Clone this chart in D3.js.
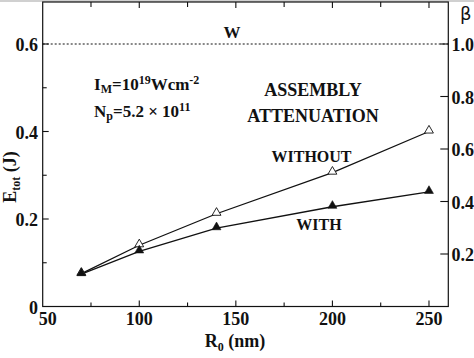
<!DOCTYPE html>
<html><head><meta charset="utf-8">
<script src="https://cdn.jsdelivr.net/npm/d3@7"></script>
<style>
html,body{margin:0;padding:0;background:#fff;overflow:hidden}
svg{display:block}
text{font-family:"Liberation Serif","Times New Roman",serif;font-weight:bold;fill:#111}
</style></head>
<body>
<svg id="c" width="474" height="358"></svg>
<script>
// ---- data ----
const radii = [70, 100, 140, 200, 250];            // R0 (nm)
const withoutAtt = [0.075, 0.140, 0.212, 0.306, 0.400]; // E_tot (J), open triangles
const withAtt = [0.074, 0.126, 0.179, 0.228, 0.262];    // E_tot (J), filled triangles
const xTicks = [50, 100, 150, 200, 250];
const xMinor = [75, 125, 175, 225];
const yTicks = [0, 0.2, 0.4, 0.6];
const yMinor = [0.1, 0.3, 0.5];
const betaTicks = [0.2, 0.4, 0.6, 0.8, 1.0];
const wLevel = 0.6;

const svg = d3.select("#c");
const L = 42.7, R = 448.3, T = 2, B = 306.5;
const x = d3.scaleLinear().domain([50, 260]).range([L, R]);
const y = d3.scaleLinear().domain([0, 0.6]).range([B, 44]);
const yb = d3.scaleLinear().domain([0, 1.0]).range([B, 44]);

svg.append("rect").attr("x", 0).attr("y", 0).attr("width", 474).attr("height", T).attr("fill", "#d0d0d0");

svg.append("rect").attr("x", L).attr("y", T).attr("width", R - L).attr("height", B - T)
  .attr("fill", "none").attr("stroke", "#111").attr("stroke-width", 1.2);

const tk = svg.append("g").attr("stroke", "#111").attr("stroke-width", 1.1);
xTicks.concat(xMinor).forEach(v => {
  const major = xTicks.includes(v);
  if (x(v) <= L + 0.5) return;
  tk.append("line").attr("x1", x(v)).attr("x2", x(v)).attr("y1", B).attr("y2", B - (major ? 6 : 4));
  tk.append("line").attr("x1", x(v)).attr("x2", x(v)).attr("y1", T).attr("y2", T + (major ? 6 : 5));
});
yTicks.concat(yMinor).forEach(v => {
  const major = yTicks.includes(v);
  if (v === 0) return;
  tk.append("line").attr("x1", L).attr("x2", L + (major ? 6 : 4)).attr("y1", y(v)).attr("y2", y(v));
});
betaTicks.forEach(v => {
  tk.append("line").attr("x1", R).attr("x2", R - 8).attr("y1", yb(v)).attr("y2", yb(v));
});

const fs = 18;
xTicks.forEach(v => {
  svg.append("text").attr("x", x(v) + (v === 50 ? 5 : 0)).attr("y", B + 18)
    .attr("text-anchor", "middle").attr("font-size", fs).text(v);
});
yTicks.forEach(v => {
  svg.append("text").attr("x", 38).attr("y", y(v) + 7)
    .attr("text-anchor", "end").attr("font-size", fs).text(v === 0 ? "0" : v.toFixed(1));
});
betaTicks.forEach(v => {
  svg.append("text").attr("x", 451.5).attr("y", yb(v) + 7)
    .attr("text-anchor", "start").attr("font-size", fs).text(v.toFixed(2));
});
svg.append("text").attr("x", 460).attr("y", 20).attr("font-size", 18)
  .style("font-family", "'DejaVu Sans',sans-serif").style("font-weight", "normal").text("β");

svg.append("line").attr("x1", L).attr("x2", R).attr("y1", y(wLevel)).attr("y2", y(wLevel))
  .attr("stroke", "#111").attr("stroke-width", 1).attr("stroke-dasharray", "2,2");
svg.append("text").attr("x", 232).attr("y", 38).attr("text-anchor", "middle").attr("font-size", 17).text("W");

const line = d3.line().x(d => x(d[0])).y(d => y(d[1]));
const sW = radii.map((r, i) => [r, withoutAtt[i]]);
const sA = radii.map((r, i) => [r, withAtt[i]]);
[sW, sA].forEach(s => svg.append("path").attr("d", line(s)).attr("fill", "none")
  .attr("stroke", "#111").attr("stroke-width", 1.3));
const tri = d3.symbol().type(d3.symbolTriangle).size(34);
sW.forEach(d => svg.append("path").attr("d", tri()).attr("transform", `translate(${x(d[0])},${y(d[1]) - 1})`)
  .attr("fill", "#fff").attr("stroke", "#111").attr("stroke-width", 0.9));
sA.forEach(d => svg.append("path").attr("d", tri()).attr("transform", `translate(${x(d[0])},${y(d[1]) - 1})`)
  .attr("fill", "#111").attr("stroke", "#111").attr("stroke-width", 0.6));

const t1 = svg.append("text").attr("x", 94).attr("y", 90).attr("font-size", 17);
t1.append("tspan").text("I");
t1.append("tspan").attr("font-size", 12).attr("dy", 3).text("M");
t1.append("tspan").attr("dy", -3).text("=10");
t1.append("tspan").attr("font-size", 12).attr("dy", -6).text("19");
t1.append("tspan").attr("dy", 6).text("Wcm");
t1.append("tspan").attr("font-size", 12).attr("dy", -6).text("-2");

const t2 = svg.append("text").attr("x", 94).attr("y", 117).attr("font-size", 17);
t2.append("tspan").text("N");
t2.append("tspan").attr("font-size", 12).attr("dy", 3).text("p");
t2.append("tspan").attr("dy", -3).text("=5.2 × 10");
t2.append("tspan").attr("font-size", 12).attr("dy", -6).text("11");

svg.append("text").attr("x", 313).attr("y", 96).attr("text-anchor", "middle").attr("font-size", 18).text("ASSEMBLY");
svg.append("text").attr("x", 313).attr("y", 122).attr("text-anchor", "middle").attr("font-size", 18).text("ATTENUATION");
svg.append("text").attr("x", 311.5).attr("y", 161.5).attr("text-anchor", "middle").attr("font-size", 16).text("WITHOUT");
svg.append("text").attr("x", 319).attr("y", 229.5).attr("text-anchor", "middle").attr("font-size", 16).text("WITH");

const xt = svg.append("text").attr("x", 235).attr("y", 347).attr("text-anchor", "middle").attr("font-size", 18);
xt.append("tspan").text("R");
xt.append("tspan").attr("font-size", 12).attr("dy", 4).text("0");
xt.append("tspan").attr("dy", -4).text(" (nm)");

const yt = svg.append("text").attr("transform", "translate(16,177) rotate(-90)").attr("text-anchor", "middle").attr("font-size", 18);
yt.append("tspan").text("E");
yt.append("tspan").attr("font-size", 12).attr("dy", 4).text("tot");
yt.append("tspan").attr("dy", -4).text(" (J)");
</script>
</body></html>
